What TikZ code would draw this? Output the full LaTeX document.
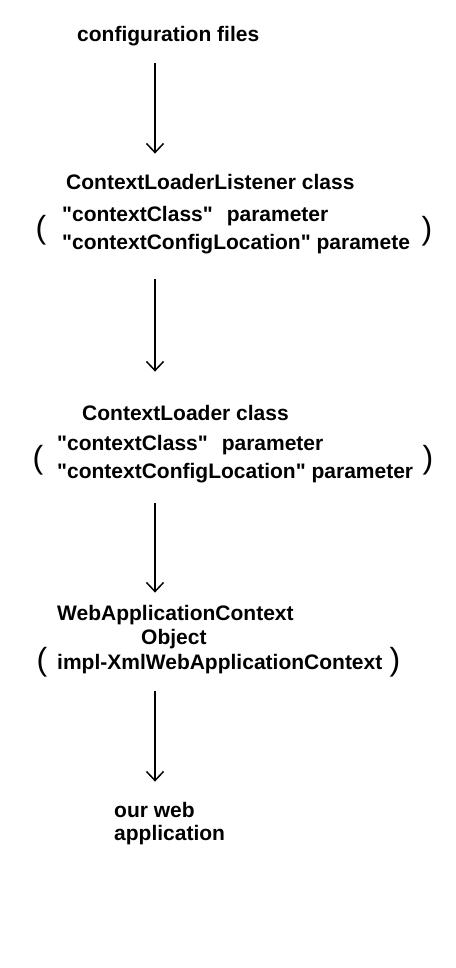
\documentclass[tikz,border=0pt]{standalone}
\usepackage{fontspec}
\setmainfont{Liberation Sans}[Ligatures=TeXOff]
\usetikzlibrary{arrows.meta,positioning}

\tikzset{
    % Define text and connector styles
    steptext/.style={
        inner sep=0pt, anchor=base west,
        font=\bfseries\fontsize{21}{24}\selectfont
    },
    bracket/.style={
        inner sep=0pt, font=\fontsize{32}{32}\selectfont
    },
    flow/.style={
        -{Straight Barb[length=9pt,width=17pt]}, line width=1.5pt
    }
}

\begin{document}
\begin{tikzpicture}[x=1pt, y=-1pt]
\useasboundingbox (0,0) rectangle (455,968);
\coordinate (spine) at (155,0);

% Source
\node[steptext] (config_files) at (77,42) {configuration files};

% Listener block
\node[steptext] (listener) at (66,190) {ContextLoaderListener class};
\node[steptext] (listener_class) at (62,222) {"contextClass"\hspace{14pt}parameter};
\node[steptext] (listener_location) at (62,250) {"contextConfigLocation" paramete};
\node[bracket] (listener_open) at (41,230) {(};
\node[bracket] (listener_close) at (427,231) {)};

% Loader block
\node[steptext] (loader) at (82,420) {ContextLoader class};
\node[steptext] (loader_class) at (57,450) {"contextClass"\hspace{14pt}parameter};
\node[steptext] (loader_location) at (57,478) {"contextConfigLocation" parameter};
\node[bracket] (loader_open) at (38,460) {(};
\node[bracket] (loader_close) at (428,460) {)};

% Context object
\node[steptext] (web_context) at (57,620) {WebApplicationContext};
\node[steptext] (web_object) at (141,644) {Object};
\node[steptext] (web_impl) at (57,669) {impl-XmlWebApplicationContext};
\node[bracket] (web_open) at (42,662) {(};
\node[bracket] (web_close) at (395,662) {)};

% Target
\node[steptext] (web_app) at (114,817) {our web};
\node[steptext] (web_app_2) at (114,840) {application};

% Flow arrows
\draw[flow, shorten <=16pt, shorten >=21pt] (config_files.south -| spine) -- (listener.north -| spine);
\draw[flow, shorten <=24pt, shorten >=33pt] (listener_location.south -| spine) -- (loader.north -| spine);
\draw[flow, shorten <=20pt, shorten >=12pt] (loader_location.south -| spine) -- (web_context.north -| spine);
\draw[flow, shorten <=17pt, shorten >=20pt] (web_impl.south -| spine) -- (web_app.north -| spine);

\end{tikzpicture}
\end{document}
